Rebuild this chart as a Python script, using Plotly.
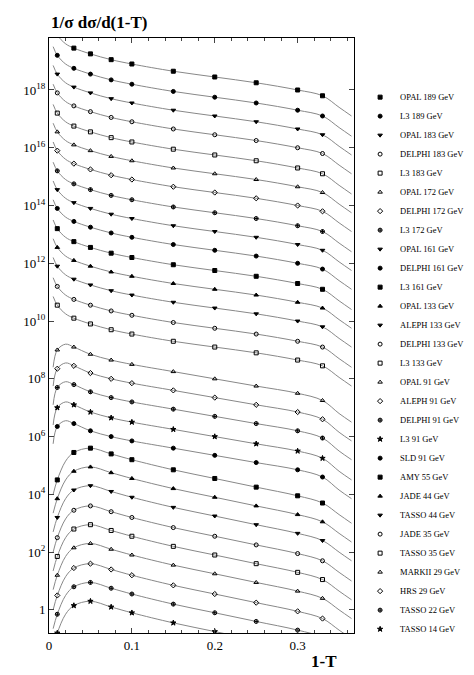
import plotly.graph_objects as go

names = ["OPAL 189 GeV", "L3 189 GeV", "OPAL 183 GeV", "DELPHI 183 GeV", "L3 183 GeV",
         "OPAL 172 GeV", "DELPHI 172 GeV", "L3 172 GeV", "OPAL 161 GeV", "DELPHI 161 GeV",
         "L3 161 GeV", "OPAL 133 GeV", "ALEPH 133 GeV", "DELPHI 133 GeV", "L3 133 GeV",
         "OPAL 91 GeV", "ALEPH 91 GeV", "DELPHI 91 GeV", "L3 91 GeV", "SLD 91 GeV",
         "AMY 55 GeV", "JADE 44 GeV", "TASSO 44 GeV", "JADE 35 GeV", "TASSO 35 GeV",
         "MARKII 29 GeV", "HRS 29 GeV", "TASSO 22 GeV", "TASSO 14 GeV"]
symbols = ["square", "circle", "triangle-down", "circle-open", "square-open",
           "triangle-up-open", "diamond-open", "circle-cross-open", "triangle-down", "circle",
           "square", "triangle-up", "triangle-down", "circle-open", "square-open",
           "triangle-up-open", "diamond-open", "circle-cross-open", "star", "circle",
           "square", "triangle-up", "triangle-down", "circle-open", "square-open",
           "triangle-up-open", "diamond-open", "circle-cross-open", "star"]
# log10 of curve value at its reference point, top to bottom
offsets = [19.6, 18.9, 18.25, 17.6, 16.9, 16.25, 15.6, 14.9, 14.25, 13.6,
           12.9, 12.25, 11.6, 10.9, 10.25, 9.2, 8.55, 7.9, 7.2, 6.55,
           5.6, 4.95, 4.3, 3.6, 2.95, 2.3, 1.6, 0.95, 0.3]
shape_kind = ["hi"] * 15 + ["z"] * 5 + ["lo"] * 9

x_nodes = [0.005, 0.01, 0.02, 0.03, 0.05, 0.075, 0.1, 0.15, 0.2, 0.25, 0.3, 0.33, 0.35, 0.365]
shapes = {
    "hi": [0.6, 0.3, 0.0, -0.15, -0.35, -0.55, -0.7, -0.95, -1.15, -1.35, -1.6, -1.8, -2.2, -2.5],
    "z":  [-0.8, -0.2, 0.0, -0.1, -0.35, -0.55, -0.7, -0.95, -1.2, -1.45, -1.7, -1.95, -2.4, -2.7],
    "lo": [-1.6, -1.1, -0.45, -0.15, 0.0, -0.2, -0.4, -0.75, -1.05, -1.35, -1.65, -1.9, -2.3, -2.6],
}
marker_idx = [1, 3, 4, 5, 6, 7, 8, 9, 10, 11]

fig = go.Figure()
for name, sym, off, kind in zip(names, symbols, offsets, shape_kind):
    ys = [10 ** (off + s) for s in shapes[kind]]
    fig.add_trace(go.Scatter(x=x_nodes, y=ys, mode="lines", line=dict(color="#888", width=1, shape="spline"),
                             showlegend=False, hoverinfo="skip"))
    fig.add_trace(go.Scatter(x=[x_nodes[i] for i in marker_idx], y=[ys[i] for i in marker_idx],
                             mode="markers", name=name,
                             marker=dict(symbol=sym, size=4, color="black", line=dict(color="black", width=1))))

tickvals = [1, 1e2, 1e4, 1e6, 1e8, 1e10, 1e12, 1e14, 1e16, 1e18]
ticktext = ["1"] + ["10<sup>%d</sup>" % p for p in range(2, 20, 2)]

fig.update_layout(
    width=474, height=675, plot_bgcolor="white", paper_bgcolor="white",
    margin=dict(l=41, r=124, t=30, b=50),
    font=dict(family="Liberation Serif", color="black", size=12),
    legend=dict(x=1.02, y=0.925, yanchor="top", font=dict(size=8.5, color="black"), tracegroupgap=0,
                itemwidth=30, bgcolor="rgba(0,0,0,0)"),
    annotations=[
        dict(text="<b>1/σ dσ/d(1-T)</b>", x=0, xref="paper", xanchor="left", y=1.0, yref="paper",
             yanchor="bottom", yshift=4, showarrow=False, font=dict(size=17, color="black")),
        dict(text="<b>1-T</b>", x=0.95, xref="paper", xanchor="right", y=0, yref="paper",
             yanchor="top", yshift=-17, showarrow=False, font=dict(size=17, color="black")),
    ],
)
fig.update_xaxes(range=[0, 0.368], tickvals=[0, 0.1, 0.2, 0.3], ticks="inside", mirror="ticks",
                 showline=True, linecolor="black", showgrid=False, zeroline=False,
                 minor=dict(ticks="inside", dtick=0.02, ticklen=3),
                 tickfont=dict(size=13, color="black"))
fig.update_yaxes(type="log", range=[-0.8, 19.8], tickvals=tickvals, ticktext=ticktext, ticks="inside",
                 mirror="ticks", showline=True, linecolor="black", showgrid=False, zeroline=False,
                 tickfont=dict(size=13, color="black"))
fig.write_html("out.html")
